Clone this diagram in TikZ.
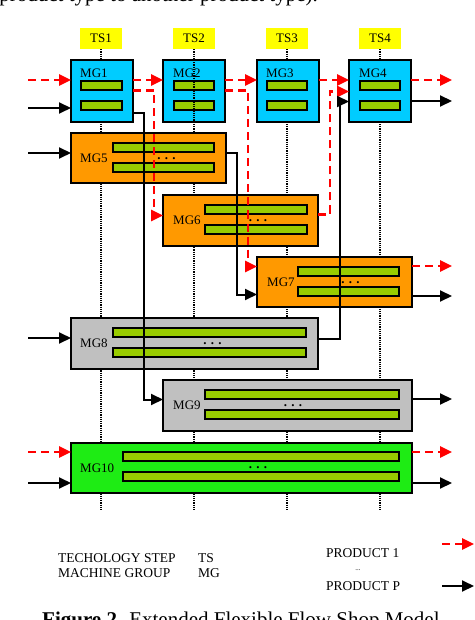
\documentclass[tikz,border=0pt]{standalone}
\usepackage{fontspec}
\setmainfont{Liberation Serif}
\usetikzlibrary{arrows.meta, positioning, calc}
\definecolor{mgblue}{RGB}{0,204,255}
\definecolor{mgorange}{RGB}{255,153,0}
\definecolor{mggray}{RGB}{192,192,192}
\definecolor{mggreen}{RGB}{30,236,20}
\definecolor{barolive}{RGB}{153,204,0}
\definecolor{tsyellow}{RGB}{255,255,0}

\begin{document}
\begin{tikzpicture}[x=1pt,y=-1pt,font=\fontsize{13}{15}\selectfont,>={Triangle[length=12pt,width=11pt]}]

	\tikzset{mg box/.style={draw=black, line width=2.5pt,
			inner sep=0pt, outer sep=0pt, anchor=north west}}
	\tikzset{mg bar/.style={draw=black, line width=2pt, fill=barolive,
			minimum height=9pt, inner sep=0pt, outer sep=0pt}}
	\tikzset{mg label/.style={anchor=west, inner sep=0pt}}
	\tikzset{bar dots/.style={inner sep=0pt, font=\fontsize{13}{15}\selectfont\bfseries}}
	\tikzset{ts box/.style={fill=tsyellow, minimum width=42pt,
			minimum height=21pt, inner sep=0pt}}
	\tikzset{ts line/.style={line width=1.6pt, dash pattern=on 1.2pt off 1pt}}
	\tikzset{prod one/.style={->, red, line width=2.5pt, dash pattern=on 8pt off 5pt}}
	\tikzset{prod p/.style={->, black, line width=2pt}}
	\tikzset{key text/.style={anchor=base west, inner sep=0pt,
			font=\fontsize{13.5}{15}\selectfont}}

	\fill[white] (0,0) rectangle (474,620);
	\useasboundingbox (0,0) rectangle (474,620);

	% text cut by the frame
	\node[anchor=base east, inner sep=0pt, font=\fontsize{21}{24}\selectfont] (head) at (318,2) {product type to another product type).};
	\node[anchor=base west, inner sep=0pt, font=\fontsize{21}{24}\selectfont] (caption) at (42,626) {\textbf{Figure 2.} Extended Flexible Flow Shop Model};

	% technology steps
	\node[ts box] (TS1) at (101,38.5) {TS1};
	\node[ts box] (TS2) at (194,38.5) {TS2};
	\node[ts box] (TS3) at (287,38.5) {TS3};
	\node[ts box] (TS4) at (380,38.5) {TS4};
	\coordinate (ts bottom) at (0,510);
	\draw[ts line] (TS1.south) -- (TS1.south |- ts bottom);
	\draw[ts line] (TS2.south) -- (TS2.south |- ts bottom);
	\draw[ts line] (TS3.south) -- (TS3.south |- ts bottom);
	\draw[ts line] (TS4.south) -- (TS4.south |- ts bottom);

	% machine groups
	\node[mg box, fill=mgblue, minimum width=62pt, minimum height=62pt] (MG1) at (71,60) {};
	\node[mg box, fill=mgblue, minimum width=62pt, minimum height=62pt] (MG2) at (163,60) {};
	\node[mg box, fill=mgblue, minimum width=62pt, minimum height=62pt] (MG3) at (257,60) {};
	\node[mg box, fill=mgblue, minimum width=62pt, minimum height=62pt] (MG4) at (349,60) {};
	\node[mg box, fill=mgorange, minimum width=155pt, minimum height=50pt] (MG5) at (71,133) {};
	\node[mg box, fill=mgorange, minimum width=155pt, minimum height=51pt] (MG6) at (163,195) {};
	\node[mg box, fill=mgorange, minimum width=155pt, minimum height=50pt] (MG7) at (257,257) {};
	\node[mg box, fill=mggray, minimum width=247pt, minimum height=51pt] (MG8) at (71,318) {};
	\node[mg box, fill=mggray, minimum width=249pt, minimum height=51pt] (MG9) at (163,380) {};
	\node[mg box, fill=mggreen, minimum width=341pt, minimum height=50pt] (MG10) at (71,443) {};

	\node[mg label] at ([xshift=9pt,yshift=-13pt]MG1.north west) {MG1};
	\node[mg label] at ([xshift=10pt,yshift=-13pt]MG2.north west) {MG2};
	\node[mg label] at ([xshift=9pt,yshift=-13pt]MG3.north west) {MG3};
	\node[mg label] at ([xshift=10pt,yshift=-13pt]MG4.north west) {MG4};
	\node[mg label] at ([xshift=9pt]MG5.west) {MG5};
	\node[mg label] at ([xshift=10pt]MG6.west) {MG6};
	\node[mg label] at ([xshift=10pt]MG7.west) {MG7};
	\node[mg label] at ([xshift=9pt]MG8.west) {MG8};
	\node[mg label] at ([xshift=10pt]MG9.west) {MG9};
	\node[mg label] at ([xshift=9pt]MG10.west) {MG10};

	% machines in each group
	\node[mg bar, minimum width=41pt, below right=21pt and 10pt of MG1.north west] (B1a) {};
	\node[mg bar, minimum width=41pt, below=11pt of B1a] (B1b) {};
	\node[mg bar, minimum width=40pt, below right=21pt and 11pt of MG2.north west] (B2a) {};
	\node[mg bar, minimum width=40pt, below=11pt of B2a] (B2b) {};
	\node[mg bar, minimum width=40pt, below right=21pt and 10pt of MG3.north west] (B3a) {};
	\node[mg bar, minimum width=40pt, below=11pt of B3a] (B3b) {};
	\node[mg bar, minimum width=40pt, below right=21pt and 11pt of MG4.north west] (B4a) {};
	\node[mg bar, minimum width=40pt, below=11pt of B4a] (B4b) {};
	\node[mg bar, minimum width=101pt, below right=10pt and 42pt of MG5.north west] (B5a) {};
	\node[mg bar, minimum width=101pt, below=11pt of B5a] (B5b) {};
	\node[mg bar, minimum width=102pt, below right=10pt and 42pt of MG6.north west] (B6a) {};
	\node[mg bar, minimum width=102pt, below=11pt of B6a] (B6b) {};
	\node[mg bar, minimum width=101pt, below right=10pt and 41pt of MG7.north west] (B7a) {};
	\node[mg bar, minimum width=101pt, below=11pt of B7a] (B7b) {};
	\node[mg bar, minimum width=193pt, below right=10pt and 42pt of MG8.north west] (B8a) {};
	\node[mg bar, minimum width=193pt, below=11pt of B8a] (B8b) {};
	\node[mg bar, minimum width=194pt, below right=10pt and 42pt of MG9.north west] (B9a) {};
	\node[mg bar, minimum width=194pt, below=11pt of B9a] (B9b) {};
	\node[mg bar, minimum width=276pt, below right=9pt and 52pt of MG10.north west] (B10a) {};
	\node[mg bar, minimum width=276pt, below=11pt of B10a] (B10b) {};

	\node[bar dots] at ($(B5a.south)!.5!(B5b.north)+(3,1)$) {. . .};
	\node[bar dots] at ($(B6a.south)!.5!(B6b.north)+(2,1)$) {. . .};
	\node[bar dots] at ($(B7a.south)!.5!(B7b.north)+(2,1)$) {. . .};
	\node[bar dots] at ($(B8a.south)!.5!(B8b.north)+(3,1)$) {. . .};
	\node[bar dots] at ($(B9a.south)!.5!(B9b.north)+(-9,1)$) {. . .};
	\node[bar dots] at ($(B10a.south)!.5!(B10b.north)+(-3,1)$) {. . .};

	\draw[ts line] (MG2.north) -- (MG2.south);

	% flows in and out
	\coordinate (in a) at (28,80);
	\coordinate (in b) at (28,108);
	\coordinate (in c) at (28,153);
	\coordinate (in d) at (28,338);
	\coordinate (in e) at (28,452);
	\coordinate (in f) at (28,483);
	\coordinate (out a) at (452,80);
	\coordinate (out b) at (452,101);
	\coordinate (out c) at (452,266);
	\coordinate (out d) at (452,296);
	\coordinate (out e) at (452,399);
	\coordinate (out f) at (452,452);
	\coordinate (out g) at (452,483);

	% product 1
	\draw[prod one] (in a) -- (in a -| MG1.west);
	\draw[prod one] (MG1.east |- in a) -- (MG2.west |- in a);
	\draw[prod one] (MG2.east |- in a) -- (MG3.west |- in a);
	\draw[prod one] (MG3.east |- in a) -- (MG4.west |- in a);
	\draw[prod one] (MG4.east |- out a) -- (out a);
	\draw[prod one] ([yshift=0.5pt]MG1.east) -| ([xshift=-9pt,yshift=5pt]MG6.west) -- ([yshift=5pt]MG6.west);
	\draw[prod one] ([yshift=0.5pt]MG2.east) -| ([xshift=-9pt,yshift=15.5pt]MG7.west) -- ([yshift=15.5pt]MG7.west);
	\draw[prod one] ([yshift=6pt]MG6.east) -| ([xshift=-19pt,yshift=-0.5pt]MG4.west) -- ([yshift=-0.5pt]MG4.west);
	\draw[prod one] (MG7.east |- out c) -- (out c);
	\draw[prod one] (in e) -- (in e -| MG10.west);
	\draw[prod one] (MG10.east |- out f) -- (out f);

	% product P
	\draw[prod p] (in b) -- (in b -| MG1.west);
	\draw[prod p] ([yshift=-22.5pt]MG1.east) -| ([xshift=-19pt,yshift=6pt]MG9.west) -- ([yshift=6pt]MG9.west);
	\draw[prod p] (in c) -- (in c -| MG5.west);
	\draw[prod p] ([yshift=4.5pt]MG5.east) -| ([xshift=-20pt,yshift=-12.5pt]MG7.west) -- ([yshift=-12.5pt]MG7.west);
	\draw[prod p] (in d) -- (in d -| MG8.west);
	\draw[prod p] ([yshift=5pt]MG8.east) -| ([xshift=-9pt,yshift=-10.5pt]MG4.west) -- ([yshift=-10.5pt]MG4.west);
	\draw[prod p] (MG4.east |- out b) -- (out b);
	\draw[prod p] (MG7.east |- out d) -- (out d);
	\draw[prod p] (MG9.east |- out e) -- (out e);
	\draw[prod p] (in f) -- (in f -| MG10.west);
	\draw[prod p] (MG10.east |- out g) -- (out g);

	% key
	\node[key text] (key ts) at (58,562) {TECHOLOGY STEP};
	\node[key text] (key ts short) at (198,562) {TS};
	\node[key text] (key mg) at (58,577) {MACHINE GROUP};
	\node[key text] (key mg short) at (198,577) {MG};
	\node[key text] (key p1) at (326,557) {PRODUCT 1};
	\node[inner sep=0pt, font=\fontsize{7}{8}\selectfont] (key dots) at (358,570) {...};
	\node[key text] (key pp) at (326,590) {PRODUCT P};
	\coordinate (key a) at (442,544);
	\coordinate (key b) at (474,544);
	\coordinate (key c) at (442,586);
	\coordinate (key d) at (474,586);
	\draw[prod one] (key a) -- (key b);
	\draw[prod p] (key c) -- (key d);
\end{tikzpicture}
\end{document}
